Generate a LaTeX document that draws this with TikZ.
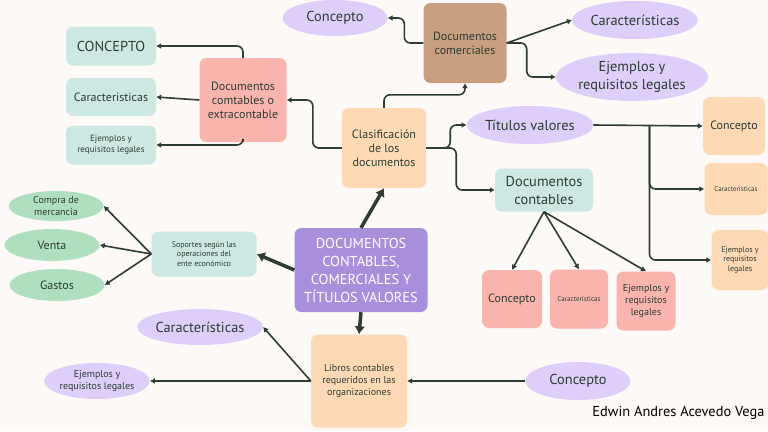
\documentclass[tikz,border=0pt]{standalone}
\usepackage{fontspec}
\setmainfont{PT Sans}
\usetikzlibrary{shapes.geometric,arrows.meta}
\definecolor{bg}{HTML}{FDF9F6}
\definecolor{ink}{HTML}{2D3D33}
\definecolor{lila}{HTML}{DDCEFA}
\definecolor{brown}{HTML}{C89F80}
\definecolor{teal}{HTML}{CDE8E2}
\definecolor{pink}{HTML}{F9B4AE}
\definecolor{orng}{HTML}{FDD9B5}
\definecolor{main}{HTML}{A88FDC}
\definecolor{grn}{HTML}{B0DFC0}
\begin{document}
\begin{tikzpicture}[x=1pt,y=-1pt,
 box/.style={rounded corners=7pt,align=center,text=ink,inner sep=1pt},
 ell/.style={ellipse,align=center,text=ink,inner sep=0pt},
 con/.style={draw=ink,line width=1.6pt,-{Latex[length=5pt,width=6pt]},rounded corners=6pt},
 big/.style={draw=ink,line width=3.5pt,-{Latex[length=8pt,width=11pt]}}]
\fill[bg] (0,0) rectangle (768,431);
\useasboundingbox (0,0) rectangle (768,431);
% nodes
\node[ell,fill=lila,minimum width=105,minimum height=36,font=\Large] (c1) at (335,18) {Concepto};
\node[box,fill=brown,minimum width=83,minimum height=80,font=\large] (dcom) at (465,43) {Documentos\\comerciales};
\node[ell,fill=lila,minimum width=115,minimum height=38,font=\Large] (car1) at (635,20) {Características};
\node[ell,fill=lila,minimum width=135,minimum height=48,font=\Large] (ej1) at (632,77) {Ejemplos y\\requisitos legales};
\node[box,fill=teal,minimum width=90,minimum height=39,font=\Large] (cc) at (111,46) {CONCEPTO};
\node[box,fill=teal,minimum width=90,minimum height=38,font=\large] (car2) at (111,97) {Caracteristicas};
\node[box,fill=teal,minimum width=90,minimum height=39,font=\small] (ej2) at (111,145) {Ejemplos y\\requisitos legales};
\node[box,fill=pink,minimum width=87,minimum height=84,font=\large] (dce) at (243,100) {Documentos\\comtables o\\extracontable};
\node[box,fill=orng,minimum width=84,minimum height=80,font=\large] (cla) at (384,148) {Clasificación\\de los\\documentos};
\node[ell,fill=lila,minimum width=115,minimum height=38,font=\Large] (tv) at (530,125) {Títulos valores};
\node[box,fill=teal,minimum width=98,minimum height=43,font=\Large] (dc) at (544,190) {Documentos\\contables};
\node[box,fill=orng,minimum width=62,minimum height=58,font=\large] (rc) at (734,126) {Concepto};
\node[box,fill=orng,minimum width=63,minimum height=52,font=\scriptsize] (rcar) at (736,189) {Características};
\node[box,fill=orng,minimum width=57,minimum height=60,font=\footnotesize] (rej) at (740,260) {Ejemplos y\\requisitos\\legales};
\node[box,fill=pink,minimum width=60,minimum height=58,font=\large] (pc) at (512,299) {Concepto};
\node[box,fill=pink,minimum width=58,minimum height=59,font=\scriptsize] (pcar) at (579,299) {Características};
\node[box,fill=pink,minimum width=59,minimum height=59] (pej) at (646,301) {Ejemplos y\\requisitos\\legales};
\node[box,fill=main,minimum width=133,minimum height=84,text=white,font=\Large] (m) at (361,270) {DOCUMENTOS\\CONTABLES,\\COMERCIALES Y\\TÍTULOS VALORES};
\node[box,fill=teal,minimum width=105,minimum height=45,font=\footnotesize] (sop) at (204,254) {Soportes según las\\operaciones del\\ente económico};
\node[ell,fill=grn,minimum width=95,minimum height=30] (g1) at (56,206) {Compra de\\mercancia};
\node[ell,fill=grn,minimum width=95,minimum height=32,font=\large] (g2) at (52,245) {Venta};
\node[ell,fill=grn,minimum width=95,minimum height=32,font=\large] (g3) at (57,285) {Gastos};
\node[ell,fill=lila,minimum width=105,minimum height=36,font=\Large] (car3) at (200,327) {Características};
\node[ell,fill=lila,minimum width=105,minimum height=36] (ej3) at (97,381) {Ejemplos y\\requisitos legales};
\node[box,fill=orng,minimum width=96,minimum height=93] (lib) at (359,381) {Libros contables\\requeridos en las\\organizaciones};
\node[ell,fill=lila,minimum width=105,minimum height=38,font=\Large] (c4) at (578,381) {Concepto};
\node[anchor=east,font=\Large,text=black] (auth) at (768,413) {Edwin Andres Acevedo Vega};
% connectors
\draw[big] (m.north) -- (cla.south);
\draw[big] (m.west) -- (sop.east);
\draw[big] (m.south) -- (lib.north);
\draw[con] (dce.north) |- (cc.east);
\draw[con] (dce.west) -- (car2.east);
\draw[con] (dce.south) |- (ej2.east);
\draw[con] (cla.west) -- ++(-29,0) |- (dce.east);
\draw[con] (cla.north) |- ++(81,-13) -- (dcom.south);
\draw[con] (dcom.west) -- ++(-19,0) |- (c1.east);
\draw[con] (dcom.east) -- (car1.west);
\draw[con] (dcom.east) -- ++(20,0) |- (ej1.west);
\draw[con] (cla.east) -- ++(24,0) |- (tv.west);
\draw[con] (cla.east) -- ++(30,0) |- (dc.west);
\draw[con] (tv.east) -- (rc.west);
\draw[con] ([xshift=56]tv.east) |- (rcar.west);
\draw[con] ([xshift=56]tv.east) |- (rej.west);
\draw[con] (dc.south) -- (pc.north);
\draw[con] (dc.south) -- (pcar.north);
\draw[con] (dc.south) -- (pej.north);
\draw[con] (sop.west) -- (g1.east);
\draw[con] (sop.west) -- (g2.east);
\draw[con] (sop.west) -- (g3.east);
\draw[con] (lib.west) -- (car3.east);
\draw[con] (lib.west) -- (ej3.east);
\draw[con] (c4.west) -- (lib.east);
\end{tikzpicture}
\end{document}
